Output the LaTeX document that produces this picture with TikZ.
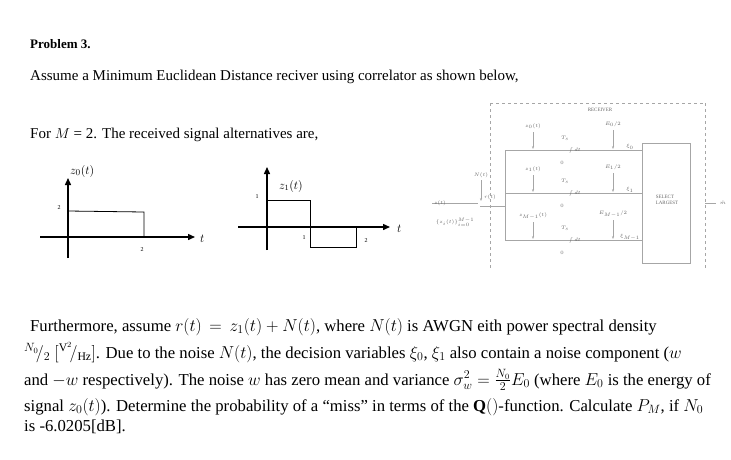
\documentclass[tikz,border=0pt]{standalone}
\usepackage{fontspec}
\usepackage{amsmath}
\setmainfont{Liberation Serif}
\usetikzlibrary{arrows.meta}
\begin{document}
\begin{tikzpicture}[x=1pt,y=-1pt,
  txt/.style={anchor=base west,inner sep=0pt,font=\fontsize{15}{17}\selectfont},
  btxt/.style={anchor=base west,inner sep=0pt,font=\fontsize{16.7}{19}\selectfont},
  ax/.style={line width=1.4pt,-{Triangle[length=7pt,width=6pt]}},
  sig/.style={line width=0.8pt},
  tick/.style={font=\fontsize{6}{7}\selectfont,inner sep=1pt},
  rx/.style={gray!70,line width=0.6pt},
  rxt/.style={gray!80!black,font=\fontsize{5}{6}\selectfont,inner sep=0.5pt},
  rxa/.style={rx,-{Stealth[length=3pt]}}]
\useasboundingbox (0,0) rectangle (731,459);
\node[txt,font=\bfseries\fontsize{13}{15}\selectfont] (title) at (30,48) {Problem 3.};
\node[txt] (l1) at (30,80) {Assume a Minimum Euclidean Distance reciver using correlator as shown below,};
\node[txt] (l2) at (30,138) {For $M$ = 2. The received signal alternatives are,};
% z0 plot
\draw[ax] (40,237) -- (195,237);
\draw[line width=1.4pt,-{Triangle[length=7pt,width=6pt]}] (68,258) -- (68,178);
\draw[sig] (68,211) -- (144,212) -- (144,237);
\node[tick] (y0) at (59,208) {2};
\node[tick] (x0) at (142,250) {2};
\node[txt,font=\fontsize{13}{15}\selectfont] (lz0) at (70,174) {$z_0(t)$};
\node[txt,font=\fontsize{12}{14}\selectfont] (t0) at (200,242) {$t$};
% z1 plot
\draw[ax] (238,227) -- (390,227);
\draw[line width=1.4pt,-{Triangle[length=7pt,width=6pt]}] (267,250) -- (267,167);
\draw[sig] (267,200) -- (310,200) -- (310,247) -- (356,247) -- (356,227);
\node[tick] (y1) at (257,197) {1};
\node[tick] (x1) at (304,238) {1};
\node[tick] (x2) at (366,241) {2};
\node[txt,font=\fontsize{12}{14}\selectfont] (lz1) at (279,189) {$z_1(t)$};
\node[txt,font=\fontsize{12}{14}\selectfont] (t1) at (397,232) {$t$};
% receiver (faint)
\draw[rx,dashed] (490,103) -- (705,103);
\draw[rx,dashed] (490,103) -- (490,270);
\draw[rx,dashed] (705,103) -- (705,270);
\node[rxt] (rec) at (600,110) {RECEIVER};
\foreach \y/\zl/\el/\xl in {150/{$z_0(t)$}/{$E_0/2$}/{$\xi_0$},193/{$z_1(t)$}/{$E_1/2$}/{$\xi_1$},240/{$z_{M-1}(t)$}/{$E_{M-1}/2$}/{$\xi_{M-1}$}}{
  \draw[rx] (505,\y) -- (642,\y);
  \draw[rxa] (533,\y-18) -- (533,\y-1);
  \draw[rxa] (613,\y-20) -- (613,\y-1);
  \node[rxt] at (533,\y-24) {\zl};
  \node[rxt] at (613,\y-26) {\el};
  \node[rxt] at (565,\y-12) {$T_s$};
  \node[rxt] at (575,\y) {$\int dt$};
  \node[rxt] at (562,\y+13) {$0$};
  \node[rxt] at (630,\y-3) {\xl};
}
\draw[rx] (505,150) -- (505,240);
\draw[rx] (642,143) rectangle (690,263);
\node[rxt,align=left] (sel) at (667,200) {SELECT\\LARGEST};
\draw[rx] (480,206) -- (505,206);
\node[rxt] (rt) at (490,197) {$r(t)$};
\draw[rx] (432,203) -- (478,203);
\draw[rxa] (481,180) -- (481,201);
\node[rxt] (nt) at (481,175) {$N(t)$};
\node[rxt] (zt) at (440,203) {$z(t)$};
\node[rxt] (zs) at (455,222) {$\{z_i(t)\}_{i=0}^{M-1}$};
\draw[rx] (705,203) -- (716,203);
\node[rxt] (m) at (723,203) {$\hat m$};
% lower text
\node[btxt] (p1) at (30,331) {Furthermore, assume $r(t)\,=\,z_1(t)+N(t)$, where $N(t)$ is AWGN eith power spectral density};
\node[btxt] (p2) at (24,358) {${}^{N_0}\!/_{2}\ [{}^{\mathrm{V}^2}\!/_{\mathrm{Hz}}]$. Due to the noise $N(t)$, the decision variables $\xi_0$, $\xi_1$ also contain a noise component ($w$};
\node[btxt] (p3) at (24,385) {and $-w$ respectively). The noise $w$ has zero mean and variance $\sigma_w^2=\tfrac{N_0}{2}E_0$ (where $E_0$ is the energy of};
\node[btxt] (p4) at (24,411) {signal $z_0(t)$). Determine the probability of a ``miss'' in terms of the $\mathbf{Q}()$-function. Calculate $P_M$, if $N_0$};
\node[btxt] (p5) at (24,431) {is -6.0205[dB].};
\end{tikzpicture}
\end{document}
